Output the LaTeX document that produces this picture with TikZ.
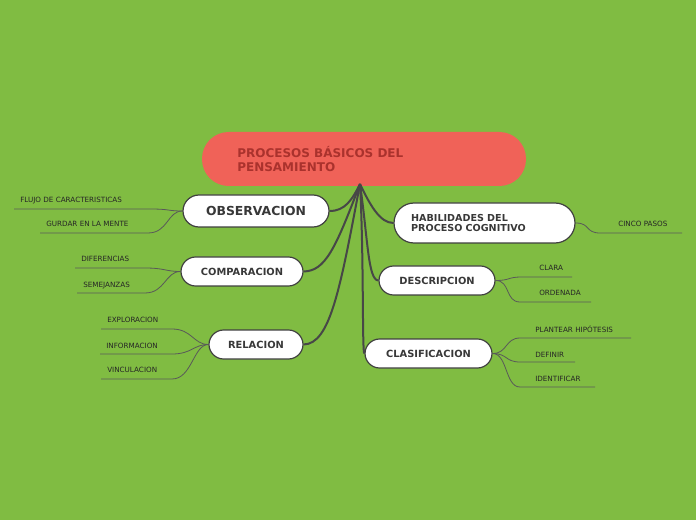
\documentclass[tikz,border=0pt]{standalone}
\usepackage{fontspec}
\setmainfont{DejaVu Sans}
\usetikzlibrary{calc}
\begin{document}
\begin{tikzpicture}[x=0.75pt,y=-0.75pt,
  box/.style={draw=black!75,line width=0.9pt,fill=white,rounded corners=#1,inner sep=0pt,font=\bfseries,text=black!78},
  leaf/.style={font=\fontsize{5.4}{6}\selectfont,inner sep=0pt,anchor=base west,text=black!85},
  main/.style={draw=black!72,line width=1.5pt},
  thin/.style={draw=black!65,line width=0.6pt}]
\fill[fill={rgb,255:red,128;green,188;blue,66}] (0,0) rectangle (696,520);
\useasboundingbox (0,0) rectangle (696,520);
% central
\node[fill={rgb,255:red,240;green,98;blue,88},rounded corners=20pt,minimum width=243pt,minimum height=40.5pt,inner sep=0pt] (c) at (364,159) {};
\node[anchor=west,align=left,font=\fontsize{9}{10.5}\selectfont\bfseries,text={rgb,255:red,170;green,50;blue,45},inner sep=0pt] (ct) at (237,159) {PROCESOS BÁSICOS DEL\\PENSAMIENTO};
\coordinate (hub) at (360,184);
% main nodes
\node[box=12pt,minimum width=109.5pt,minimum height=24pt,font=\fontsize{9.3}{10}\selectfont\bfseries] (obs) at (256,211) {OBSERVACION};
\node[box=11pt,minimum width=91.5pt,minimum height=21.75pt,font=\fontsize{7.4}{8}\selectfont\bfseries] (comp) at (242,271.5) {COMPARACION};
\node[box=11pt,minimum width=70.5pt,minimum height=21.75pt,font=\fontsize{7.4}{8}\selectfont\bfseries] (rel) at (256,344.5) {RELACION};
\node[box=15pt,minimum width=135.75pt,minimum height=30pt,font=\fontsize{7.2}{8.2}\selectfont\bfseries,align=left,text width=110pt] (hab) at (484.5,223) {HABILIDADES DEL\\PROCESO COGNITIVO};
\node[box=11pt,minimum width=87pt,minimum height=21.75pt,font=\fontsize{7.4}{8}\selectfont\bfseries] (desc) at (437,280.5) {DESCRIPCION};
\node[box=11pt,minimum width=95.25pt,minimum height=21.75pt,font=\fontsize{7.4}{8}\selectfont\bfseries] (clas) at (428.5,353.5) {CLASIFICACION};
% main connectors
\draw[main] (hub) .. controls (352,200) and (345,211) .. (obs.east);
\draw[main] (hub) .. controls (335,250) and (325,271) .. (comp.east);
\draw[main] (hub) .. controls (340,290) and (330,344) .. (rel.east);
\draw[main] (hub) .. controls (370,205) and (380,223) .. (hab.west);
\draw[main] (hub) .. controls (368,240) and (368,280) .. (desc.west);
\draw[main] (hub) .. controls (364,260) and (362,353) .. (clas.west);
% left leaves
\node[leaf] (l1) at (20,203) {FLUJO DE CARACTERISTICAS};
\node[leaf] (l2) at (46,227) {GURDAR EN LA MENTE};
\node[leaf] (l3) at (81,262) {DIFERENCIAS};
\node[leaf] (l4) at (83,287) {SEMEJANZAS};
\node[leaf] (l5) at (107,323) {EXPLORACION};
\node[leaf] (l6) at (106,348) {INFORMACION};
\node[leaf] (l7) at (107,372) {VINCULACION};
\coordinate (a1) at (14,209); \coordinate (b1) at (150,209);
\coordinate (a2) at (40,233); \coordinate (b2) at (148,233);
\coordinate (a3) at (75,268); \coordinate (b3) at (145,268);
\coordinate (a4) at (77,293); \coordinate (b4) at (145,293);
\coordinate (a5) at (101,329); \coordinate (b5) at (172,329);
\coordinate (a6) at (100,354); \coordinate (b6) at (172,354);
\coordinate (a7) at (101,379); \coordinate (b7) at (172,379);
\foreach \i/\p in {1/obs,2/obs,3/comp,4/comp,5/rel,6/rel,7/rel}{
  \draw[thin] (a\i) -- (b\i) .. controls ($(b\i)+(20,0)$) and ($(\p.west)+(-15,0)$) .. (\p.west);
}
% right leaves
\node[leaf] (r1) at (618,227) {CINCO PASOS};
\node[leaf] (r2) at (539,271) {CLARA};
\node[leaf] (r3) at (539,296) {ORDENADA};
\node[leaf] (r4) at (535,332) {PLANTEAR HIPÓTESIS};
\node[leaf] (r5) at (535,357) {DEFINIR};
\node[leaf] (r6) at (535,381) {IDENTIFICAR};
\coordinate (c1) at (600,233); \coordinate (d1) at (682,233);
\coordinate (c2) at (522,277); \coordinate (d2) at (572,277);
\coordinate (c3) at (520,302); \coordinate (d3) at (591,302);
\coordinate (c4) at (520,338); \coordinate (d4) at (631,338);
\coordinate (c5) at (520,362); \coordinate (d5) at (575,362);
\coordinate (c6) at (520,387); \coordinate (d6) at (595,387);
\foreach \i/\p in {1/hab,2/desc,3/desc,4/clas,5/clas,6/clas}{
  \draw[thin] (\p.east) .. controls ($(\p.east)+(15,0)$) and ($(c\i)+(-15,0)$) .. (c\i) -- (d\i);
}
\end{tikzpicture}
\end{document}
